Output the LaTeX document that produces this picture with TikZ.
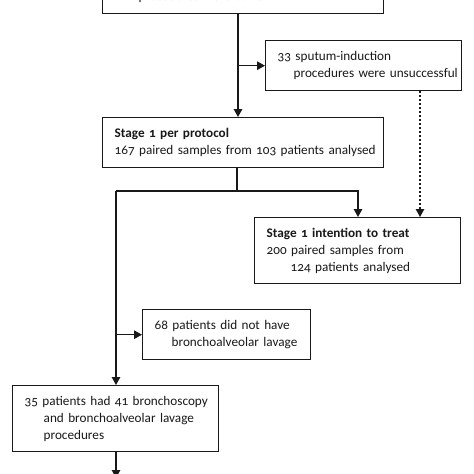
\documentclass[tikz,border=0pt]{standalone}
\usepackage{fontspec}
\setmainfont{Carlito}[Numbers=OldStyle]
\usetikzlibrary{arrows.meta}
\begin{document}
\begin{tikzpicture}[x=1pt,y=-1pt,line width=1.4pt,
  box/.style={draw=black!90, line width=1.4pt, anchor=north west, inner xsep=12pt, inner ysep=0pt,
    align=left, text=black!90, font=\fontsize{13.2}{17}\selectfont},
  arr/.style={draw=black!90, -{Triangle[length=8pt,width=8.5pt]}},
  ln/.style={draw=black!90},
  dots/.style={arr, line width=1.2pt, dash pattern=on 2pt off 2pt}]
\useasboundingbox (0,0) rectangle (474,474);
\fill[white] (0,0) rectangle (474,474);
\node[box, text width=257pt, minimum height=33pt] (top) at (102,-20) {\mbox{\hspace*{24pt}procedures were done}};
\node[box, text width=172pt, minimum height=50pt] (sput) at (265,40) {\mbox{33 sputum-induction}\\\mbox{\hspace*{16pt}procedures were unsuccessful}};
\node[box, text width=257pt, minimum height=50pt] (pp) at (102,117) {\mbox{\textbf{Stage 1 per protocol}}\\\mbox{167 paired samples from 103 patients analysed}};
\node[box, text width=182pt, minimum height=66pt] (itt) at (254,217) {\mbox{\textbf{Stage 1 intention to treat}}\\\mbox{200 paired samples from}\\\mbox{\hspace*{24pt}124 patients analysed}};
\node[box, text width=144pt, minimum height=50pt] (no) at (142,309) {\mbox{68 patients did not have}\\\mbox{\hspace*{17pt}bronchoalveolar lavage}};
\node[box, text width=182pt, minimum height=66pt] (bal) at (12,385) {\mbox{35 patients had 41 bronchoscopy}\\\mbox{\hspace*{19pt}and bronchoalveolar lavage}\\\mbox{\hspace*{19pt}procedures}};
\coordinate (xm) at (238,0);
\coordinate (xs) at (420,0);
\coordinate (split) at (237,191);
\coordinate (L) at (116,191);
\coordinate (R) at (358,191);
\coordinate (end) at (116,478);
\draw[arr] (top.south -| xm) -- (pp.north -| xm);
\draw[arr] (xm |- sput.west) -- (sput.west);
\draw[dots] (sput.south -| xs) -- (itt.north -| xs);
\draw[ln] (pp.south -| split) -- (split);
\draw[arr] (L) -- (R) -- (itt.north -| R);
\draw[arr] (L) -- (bal.north -| L);
\draw[arr] (L |- no.west) -- (no.west);
\draw[arr] (bal.south -| end) -- (end);
\end{tikzpicture}
\end{document}
